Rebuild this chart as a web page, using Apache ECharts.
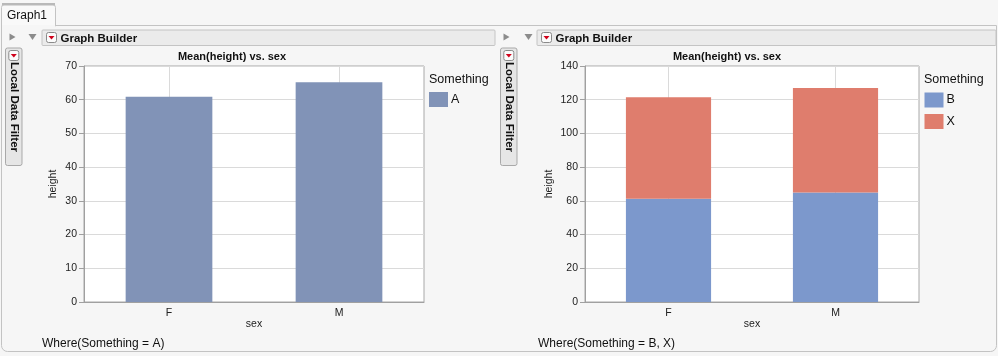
<!DOCTYPE html>
<html>
<head>
<meta charset="utf-8">
<script src="https://cdn.jsdelivr.net/npm/echarts@6.0.0/dist/echarts.min.js"></script>
<style>
html,body{margin:0;padding:0;background:#f6f6f6;}
#c{width:998px;height:356px;}
</style>
</head>
<body>
<div id="c"></div>
<script>
// ---- data ----
var categories = ['F', 'M'];
var seriesA = [60.9, 65.2];
var seriesB = [61.2, 65.0];
var seriesX = [60.3, 61.9];
var leftTicks = {min: 0, max: 70, interval: 10};
var rightTicks = {min: 0, max: 140, interval: 20};

var FONT = '"Liberation Sans", Arial, Helvetica, sans-serif';
var colA = '#8193b7', colB = '#7c98cc', colX = '#df7d6d';

var chart = echarts.init(document.getElementById('c'), null, {renderer: 'canvas'});

function yAxis(idx, t, gap) {
  return {
    type: 'value', gridIndex: idx, min: t.min, max: t.max, interval: t.interval,
    name: 'height', nameLocation: 'middle', nameGap: gap, nameRotate: 90,
    nameTextStyle: {fontFamily: FONT, fontSize: 10.5, color: '#222'},
    axisLine: {show: true, lineStyle: {color: '#a0a0a0'}},
    axisTick: {show: true, length: 5, lineStyle: {color: '#a0a0a0'}},
    axisLabel: {fontFamily: FONT, fontSize: 10.5, color: '#222', margin: 7},
    splitLine: {show: true, lineStyle: {color: '#dadada'}}
  };
}
function xAxis(idx) {
  return {
    type: 'category', gridIndex: idx, data: categories,
    name: 'sex', nameLocation: 'middle', nameGap: 17, nameMoveOverlap: false,
    nameTextStyle: {fontFamily: FONT, fontSize: 10.5, color: '#222'},
    axisLine: {show: true, lineStyle: {color: '#a0a0a0'}},
    axisTick: {show: false},
    axisLabel: {fontFamily: FONT, fontSize: 10.5, color: '#222', margin: 6},
    splitLine: {show: true, alignWithLabel: true, lineStyle: {color: '#dadada'}}
  };
}

function txt(x, y, s, opt) {
  opt = opt || {};
  return {
    type: 'text', x: x, y: y, rotation: opt.rot || 0, z: 20, silent: true,
    style: {
      text: s, fontFamily: FONT, fontSize: opt.size || 12,
      fontWeight: opt.bold ? 'bold' : 'normal', fill: opt.color || '#111',
      align: opt.align || 'left', verticalAlign: 'middle'
    }
  };
}
function redIcon(x, y) {
  return [
    {type: 'rect', shape: {x: x, y: y, width: 10, height: 10, r: 2}, z: 20, silent: true,
     style: {fill: '#fbfbfb', stroke: '#8a8a8a', lineWidth: 1}},
    {type: 'polygon', shape: {points: [[x + 2, y + 3.5], [x + 8, y + 3.5], [x + 5, y + 7]]}, z: 21, silent: true,
     style: {fill: '#d0021b'}}
  ];
}
function panelChrome(o) {
  var g = [];
  g.push({type: 'polygon', shape: {points: [[o.tri1, 33.5], [o.tri1 + 6, 37], [o.tri1, 40.5]]}, z: 20, silent: true, style: {fill: '#8c8c8c'}});
  g.push({type: 'polygon', shape: {points: [[o.tri2, 34], [o.tri2 + 8, 34], [o.tri2 + 4, 40]]}, z: 20, silent: true, style: {fill: '#8c8c8c'}});
  g.push({type: 'rect', shape: {x: o.hx, y: 30, width: o.hw, height: 15.5, r: 1}, z: 10, silent: true,
          style: {fill: '#ebebeb', stroke: '#c4c4c4', lineWidth: 1}});
  g = g.concat(redIcon(o.hx + 4.5, 32.5));
  g.push(txt(o.hx + 18.5, 38.5, 'Graph Builder', {bold: true, size: 11.5, color: '#111'}));
  g.push({type: 'rect', shape: {x: o.fx, y: 48, width: 16.5, height: 117.5, r: 2}, z: 10, silent: true,
          style: {fill: '#e6e6e6', stroke: '#a9a9a9', lineWidth: 1}});
  g = g.concat(redIcon(o.fx + 3.3, 50.5));
  g.push(txt(o.fx + 8.5, 107, 'Local Data Filter', {bold: true, size: 11.6, rot: -Math.PI / 2, align: 'center'}));
  g.push(txt(o.tcx, 57, 'Mean(height) vs. sex', {bold: true, size: 11, align: 'center'}));
  g.push(txt(o.lx, 79.5, 'Something', {size: 12.5}));
  g.push(txt(o.wx, 343.5, o.where, {size: 12}));
  return g;
}

var graphics = [];
graphics.push({type: 'rect', shape: {x: 1.5, y: 25.5, width: 995, height: 326, r: [0, 0, 6, 6]}, z: 1, silent: true,
               style: {fill: 'none', stroke: '#c3c3c3', lineWidth: 1}});
graphics.push({type: 'rect', shape: {x: 1.5, y: 4.5, width: 54, height: 21.5, r: [3, 3, 0, 0]}, z: 2, silent: true,
               style: {fill: '#f9f9f9', stroke: '#c3c3c3', lineWidth: 1}});
graphics.push({type: 'rect', shape: {x: 2, y: 3, width: 53, height: 2.5}, z: 3, silent: true, style: {fill: '#b9b9b9'}});
graphics.push({type: 'rect', shape: {x: 2, y: 25, width: 53, height: 2}, z: 3, silent: true, style: {fill: '#f6f6f6'}});
graphics.push(txt(7, 15.5, 'Graph1', {size: 12, color: '#111'}));

graphics = graphics.concat(panelChrome({tri1: 9.5, tri2: 28.5, hx: 42, hw: 453, fx: 5.5, tcx: 232, lx: 429, wx: 42, where: 'Where(Something = A)'}));
graphics = graphics.concat(panelChrome({tri1: 503.5, tri2: 524.5, hx: 537, hw: 459, fx: 500.5, tcx: 727, lx: 924, wx: 538, where: 'Where(Something = B, X)'}));

var legendCommon = {
  orient: 'vertical', padding: 0, itemWidth: 19, itemHeight: 15, itemGap: 6.5, icon: 'rect',
  selectedMode: false,
  textStyle: {fontFamily: FONT, fontSize: 12.5, color: '#111', padding: [0, 0, 0, -2]}
};

var option = {
  animation: false,
  backgroundColor: '#f6f6f6',
  graphic: graphics,
  grid: [
    {left: 84, top: 66, width: 340, height: 236, show: true, backgroundColor: '#ffffff', borderColor: '#a8a8a8', borderWidth: 1},
    {left: 585, top: 66, width: 334, height: 236, show: true, backgroundColor: '#ffffff', borderColor: '#a8a8a8', borderWidth: 1}
  ],
  legend: [
    Object.assign({left: 429, top: 92, data: ['A']}, legendCommon),
    Object.assign({left: 924.5, top: 92.5, data: ['B', 'X']}, legendCommon)
  ],
  xAxis: [xAxis(0), xAxis(1)],
  yAxis: [yAxis(0, leftTicks, 25), yAxis(1, rightTicks, 30)],
  series: [
    {name: 'A', type: 'bar', xAxisIndex: 0, yAxisIndex: 0, data: seriesA, barWidth: '51%',
     itemStyle: {color: colA}},
    {name: 'B', type: 'bar', xAxisIndex: 1, yAxisIndex: 1, stack: 's', data: seriesB, barWidth: '51%',
     itemStyle: {color: colB}},
    {name: 'X', type: 'bar', xAxisIndex: 1, yAxisIndex: 1, stack: 's', data: seriesX, barWidth: '51%',
     itemStyle: {color: colX}}
  ]
};
chart.setOption(option);
</script>
</body>
</html>
